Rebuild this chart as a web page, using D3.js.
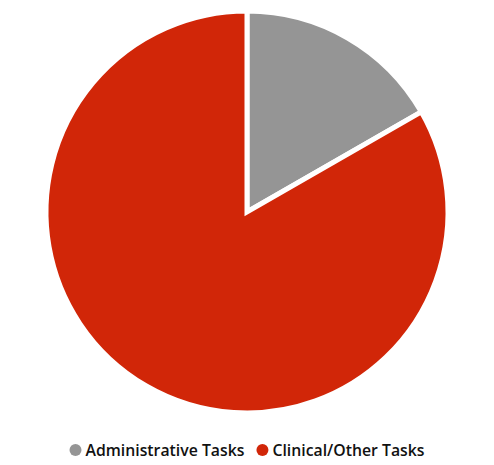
<!DOCTYPE html>
<html><head><meta charset="utf-8">
<script src="https://cdn.jsdelivr.net/npm/d3@7"></script>
<style>body{margin:0;background:#fff}svg{display:block}</style>
</head><body>
<script>
const categories = ["Administrative Tasks", "Clinical/Other Tasks"];
const values = [16.7, 83.3];
const colors = ["#959595", "#d12608"];

const W = 494, H = 465, cx = 247, cy = 212, R = 201;
const svg = d3.select("body").append("svg").attr("width", W).attr("height", H);
const data = categories.map((c, i) => ({cat: c, v: values[i], col: colors[i]}));
const pie = d3.pie().value(d => d.v).sort(null);
const arc = d3.arc().innerRadius(0).outerRadius(R);
svg.append("g").attr("transform", `translate(${cx},${cy})`)
  .selectAll("path").data(pie(data)).join("path")
  .attr("d", arc).attr("fill", d => d.data.col)
  .attr("stroke", "#fff").attr("stroke-width", 5).attr("stroke-linejoin", "miter");

const lg = svg.append("g").attr("font-family", "'Open Sans', sans-serif").attr("font-size", 15.8).attr("font-weight", 600);
let x = 0;
const items = lg.selectAll("g").data(data).join("g");
items.each(function(d) {
  const g = d3.select(this);
  g.append("circle").attr("r", 6).attr("cx", 6).attr("cy", 0).attr("fill", d.col);
  const t = g.append("text").attr("x", 16).attr("y", 0).attr("dy", "0.35em").attr("fill", "#111").text(d.cat);
  const w = t.node().getComputedTextLength();
  g.attr("transform", `translate(${x},450)`);
  x += 16 + w + 12;
});
const total = x - 12;
lg.attr("transform", `translate(${(W - total) / 2},0)`);
</script>
</body></html>
